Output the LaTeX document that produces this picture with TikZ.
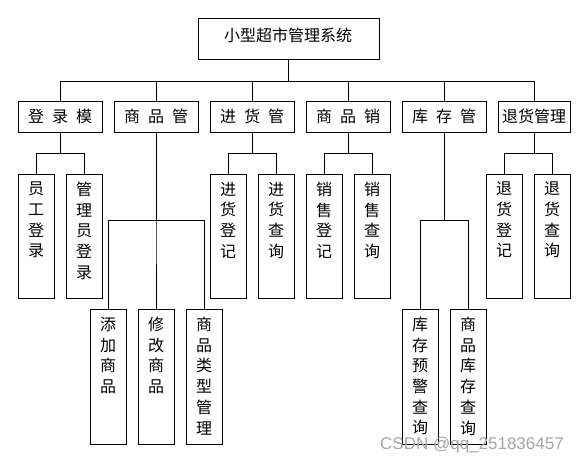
\documentclass[tikz,border=0pt]{standalone}
\usepackage{fontspec}
\setmainfont{Noto Sans CJK SC}
\newfontfamily\wmfont{Liberation Sans}
\begin{document}
\begin{tikzpicture}[x=1pt,y=-1pt,line width=1pt,
  box/.style={draw,inner sep=0pt,minimum height=31pt,minimum width=84pt,font=\fontsize{16}{19}\selectfont},
  leafA/.style={draw,inner sep=0pt,minimum width=36pt,minimum height=124pt},
  leafB/.style={draw,inner sep=0pt,minimum width=36pt,minimum height=135pt},
  lab/.style={anchor=north,inner sep=0pt,yshift=-8pt,align=center,font=\fontsize{16}{20.7}\selectfont},
  conn/.style={line width=1pt}]
\useasboundingbox (0,0) rectangle (584,463);
\fill[white] (0,0) rectangle (584,463);
\newcommand{\gp}{\hspace{8pt}}
% root
\node[draw,inner sep=0pt,minimum width=181pt,minimum height=41pt] (T) at (288.5,38.5) {};
\node[inner sep=0pt,font=\fontsize{16}{19}\selectfont] (Tt) at (288,35) {小型超市管理系统};
% level 2
\node[box] (b1) at (60,116.5) {登\gp 录\gp 模};
\node[box] (b2) at (156,116.5) {商\gp 品\gp 管};
\node[box] (b3) at (252,116.5) {进\gp 货\gp 管};
\node[box] (b4) at (348,116.5) {商\gp 品\gp 销};
\node[box] (b5) at (444,116.5) {库\gp 存\gp 管};
\node[box,minimum width=72pt] (b6) at (534,116.5) {退货管理};
% leaves row A
\node[leafA,label={[lab]north:员\\工\\登\\录}] (l11) at (36,236) {};
\node[leafA,label={[lab]north:管\\理\\员\\登\\录}] (l12) at (84,236) {};
\node[leafA,label={[lab]north:进\\货\\登\\记}] (l31) at (228,236) {};
\node[leafA,label={[lab]north:进\\货\\查\\询}] (l32) at (276,236) {};
\node[leafA,label={[lab]north:销\\售\\登\\记}] (l41) at (324,236) {};
\node[leafA,label={[lab]north:销\\售\\查\\询}] (l42) at (372,236) {};
\node[leafA,label={[lab]north:退\\货\\登\\记}] (l61) at (504,236) {};
\node[leafA,label={[lab]north:退\\货\\查\\询}] (l62) at (552,236) {};
% leaves row B
\node[leafB,label={[lab]north:添\\加\\商\\品}] (l21) at (108,376.5) {};
\node[leafB,label={[lab]north:修\\改\\商\\品}] (l22) at (156,376.5) {};
\node[leafB,label={[lab]north:商\\品\\类\\型\\管\\理}] (l23) at (204,376.5) {};
\node[leafB,label={[lab]north:库\\存\\预\\警\\查\\询}] (l51) at (420,376.5) {};
\node[leafB,label={[lab]north:商\\品\\库\\存\\查\\询}] (l52) at (468,376.5) {};
% connectors
\foreach \c in {b1,b2,b3,b4,b5,b6}
  \draw[conn] (T.south) -- ++(0,21.5) -| (\c.north);
\foreach \c in {l11,l12} \draw[conn] (b1.south) -- ++(0,21) -| (\c.north);
\foreach \c in {l21,l22,l23} \draw[conn] (b2.south) -- ++(0,88) -| (\c.north);
\foreach \c in {l31,l32} \draw[conn] (b3.south) -- ++(0,21) -| (\c.north);
\foreach \c in {l41,l42} \draw[conn] (b4.south) -- ++(0,21) -| (\c.north);
\foreach \c in {l51,l52} \draw[conn] (b5.south) -- ++(0,88) -| (\c.north);
\foreach \c in {l61,l62} \draw[conn] (b6.south) -- ++(0,21) -| (\c.north);
% watermark
\node[inner sep=0pt,text=black!35,font=\wmfont\fontsize{17}{20}\selectfont] (wm) at (472,445) {CSDN @qq\_251836457};
\end{tikzpicture}
\end{document}
